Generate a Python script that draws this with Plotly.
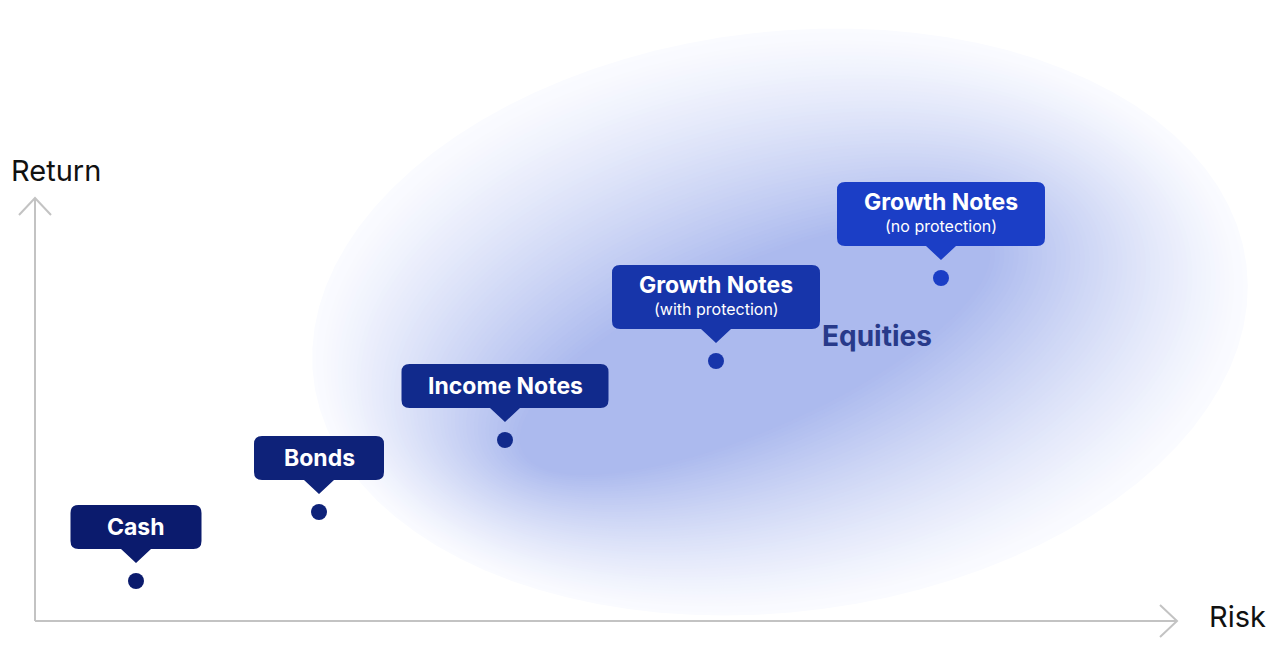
import numpy as np
import plotly.graph_objects as go

# Asset classes on the risk / return ladder
names = ["Cash", "Bonds", "Income Notes", "Growth Notes", "Growth Notes"]
subtitles = ["", "", "", "(with protection)", "(no protection)"]
risk = [1.01, 2.84, 4.70, 6.81, 9.06]
ret = [0.40, 1.09, 1.81, 2.60, 3.43]
colors = ["#0b1b6d", "#0e2279", "#112a8c", "#1735aa", "#1b3ec6"]

# bubble widths (in axis units, 1 unit = 100px)
box_w = [1.31, 1.30, 2.07, 2.08, 2.08]

axis_color = "#c3c3c3"
font = "Inter"

fig = go.Figure()

# soft "Equities" glow - stacked ellipses from pale edge to the blue core
shapes = []
n_layers = 56
theta = np.linspace(0, 2 * np.pi, 90)
outer = dict(cx=7.45, cy=2.99, a=4.70, b=2.90, rot=7)
inner = dict(cx=7.20, cy=2.74, a=2.55, b=0.82, rot=24)
edge_rgb = np.array([250, 251, 255])
core_rgb = np.array([172, 186, 238])
for k in range(n_layers):
    t = k / (n_layers - 1)
    cx = outer["cx"] + t * (inner["cx"] - outer["cx"])
    cy = outer["cy"] + t * (inner["cy"] - outer["cy"])
    a = outer["a"] + t * (inner["a"] - outer["a"])
    b = outer["b"] + t * (inner["b"] - outer["b"])
    rot = np.radians(outer["rot"] + t * (inner["rot"] - outer["rot"]))
    px = cx + a * np.cos(theta) * np.cos(rot) - b * np.sin(theta) * np.sin(rot)
    py = cy + a * np.cos(theta) * np.sin(rot) + b * np.sin(theta) * np.cos(rot)
    path = "M " + " L ".join(f"{x:.3f},{y:.3f}" for x, y in zip(px, py)) + " Z"
    c = edge_rgb + (core_rgb - edge_rgb) * t ** 1.2
    shapes.append(dict(type="path", path=path, xref="x", yref="y", layer="below",
                       fillcolor=f"rgb({c[0]:.0f},{c[1]:.0f},{c[2]:.0f})",
                       line=dict(width=0)))

# axes with open arrow heads
shapes.append(dict(type="line", x0=0, y0=0, x1=0, y1=4.23, xref="x", yref="y",
                   line=dict(color=axis_color, width=2)))
shapes.append(dict(type="path", path="M -0.16,4.06 L 0,4.23 L 0.16,4.06",
                   xref="x", yref="y", line=dict(color=axis_color, width=2)))
shapes.append(dict(type="line", x0=0, y0=0, x1=11.42, y1=0, xref="x", yref="y",
                   line=dict(color=axis_color, width=2)))
shapes.append(dict(type="path", path="M 11.25,0.16 L 11.42,0 L 11.25,-0.16",
                   xref="x", yref="y", line=dict(color=axis_color, width=2)))

annotations = []
r = 0.08
for i in range(len(names)):
    cx = risk[i]
    h = 0.64 if subtitles[i] else 0.44
    yb = ret[i] + 0.32
    yt = yb + h
    x0 = cx - box_w[i] / 2
    x1 = cx + box_w[i] / 2
    tip = ret[i] + 0.18
    path = (f"M {x0 + r},{yt} L {x1 - r},{yt} Q {x1},{yt} {x1},{yt - r} "
            f"L {x1},{yb + r} Q {x1},{yb} {x1 - r},{yb} "
            f"L {cx + 0.15},{yb} L {cx},{tip} L {cx - 0.15},{yb} "
            f"L {x0 + r},{yb} Q {x0},{yb} {x0},{yb + r} "
            f"L {x0},{yt - r} Q {x0},{yt} {x0 + r},{yt} Z")
    shapes.append(dict(type="path", path=path, xref="x", yref="y",
                       fillcolor=colors[i], line=dict(width=0)))
    if subtitles[i]:
        annotations.append(dict(x=cx, y=yt - 0.195, text=f"<b>{names[i]}</b>",
                                showarrow=False, font=dict(family=font, size=23, color="white")))
        annotations.append(dict(x=cx, y=yt - 0.44, text=subtitles[i],
                                showarrow=False, font=dict(family=font, size=16, color="white")))
    else:
        annotations.append(dict(x=cx, y=(yt + yb) / 2, text=f"<b>{names[i]}</b>",
                                showarrow=False, font=dict(family=font, size=23, color="white")))

annotations.append(dict(x=-0.26, y=4.51, text="Return", xanchor="left", showarrow=False,
                        font=dict(family=font, size=29, color="#111111")))
annotations.append(dict(x=11.72, y=0.05, text="Risk", xanchor="left", showarrow=False,
                        font=dict(family=font, size=29, color="#111111")))
annotations.append(dict(x=8.42, y=2.85, text="<b>Equities</b>", showarrow=False,
                        font=dict(family=font, size=28, color="#283a8a")))

fig.add_trace(go.Scatter(
    x=risk, y=ret, mode="markers",
    marker=dict(size=16, color=colors, line=dict(width=0)),
    hoverinfo="skip", showlegend=False,
))

# page body adds 8px offset, so ranges are shifted to put the origin at (35, 621)
fig.update_layout(
    width=1280, height=657,
    margin=dict(l=0, r=0, t=0, b=0),
    paper_bgcolor="white", plot_bgcolor="white",
    shapes=shapes, annotations=annotations,
    xaxis=dict(range=[-0.27, 12.53], visible=False, fixedrange=True),
    yaxis=dict(range=[-0.44, 6.13], visible=False, fixedrange=True),
)

fig.write_html("out.html")
